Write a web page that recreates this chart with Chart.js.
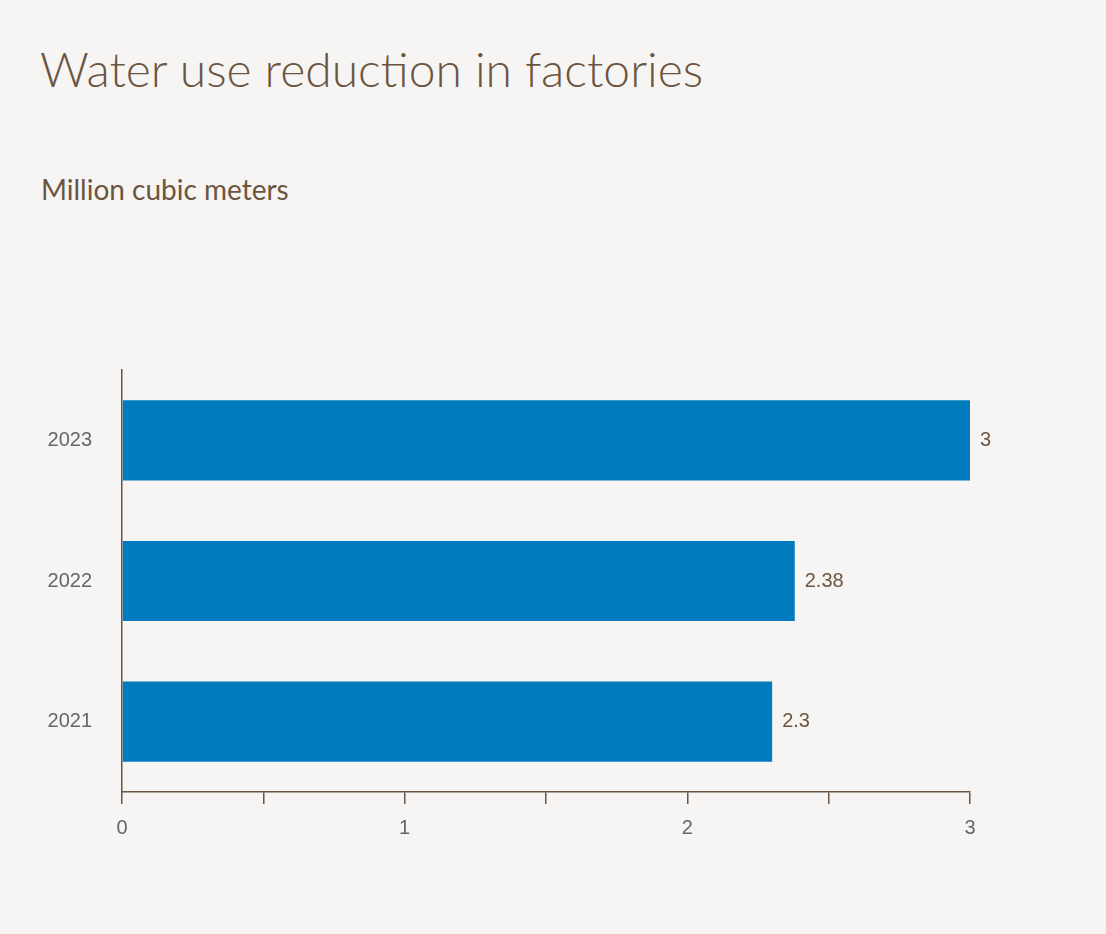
<!DOCTYPE html>
<html><head><meta charset="utf-8">
<script src="https://cdn.jsdelivr.net/npm/chart.js@4"></script>
<style>
html,body{margin:0;padding:0;background:#f7f5f3;}
#wrap{position:relative;width:1106px;height:934px;}
#title{position:absolute;left:40px;top:40px;font:300 48px Lato,"Open Sans",sans-serif;color:#6b5541;margin:0;}
#sub{position:absolute;left:41px;top:172px;font:400 28px Lato,"Open Sans",sans-serif;color:#6b5541;margin:0;}
canvas{position:absolute;left:0;top:0;}
</style></head>
<body><div id="wrap">
<div id="title">Water use reduction in factories</div>
<div id="sub">Million cubic meters</div>
<canvas id="c" width="1106" height="934"></canvas>
</div>
<script>
const categories = ["2023","2022","2021"];
const values = [3, 2.38, 2.3];
const labels = ["3","2.38","2.3"];
const brown = "#6b5541";
const valueLabels = {
  id:"valueLabels",
  afterDatasetsDraw(chart){
    const ctx=chart.ctx; const meta=chart.getDatasetMeta(0);
    ctx.save(); ctx.font="20px 'Liberation Sans',Arial,sans-serif"; ctx.fillStyle=brown;
    ctx.textBaseline="middle"; ctx.textAlign="left";
    meta.data.forEach((b,i)=>ctx.fillText(labels[i], b.x+10, b.y));
    ctx.restore();
  }
};
new Chart(document.getElementById("c"),{
  type:"bar",
  data:{labels:categories,datasets:[{data:values,backgroundColor:"#007bbd",barPercentage:0.8,categoryPercentage:0.712}]},
  options:{
    responsive:false,animation:false,indexAxis:"y",
    layout:{padding:{left:0,right:136,top:370,bottom:0}},
    plugins:{legend:{display:false},tooltip:{enabled:false}},
    scales:{
      x:{min:0,max:3,
        afterFit(s){s.height=142;},
        ticks:{stepSize:0.5,autoSkip:false,padding:12,color:"#666",font:{size:20,family:"'Liberation Sans',Arial,sans-serif"},
          callback:v=>Number.isInteger(v)?String(v):""},
        grid:{drawOnChartArea:false,drawTicks:true,tickLength:12,color:brown,lineWidth:1.5},
        border:{color:brown,width:1.5}},
      y:{
        afterFit(s){s.width=122;},
        ticks:{padding:22,color:"#666",font:{size:20,family:"'Liberation Sans',Arial,sans-serif"}},
        grid:{display:false},
        border:{color:brown,width:1.5}}
    }
  },
  plugins:[valueLabels]
});
</script></body></html>
